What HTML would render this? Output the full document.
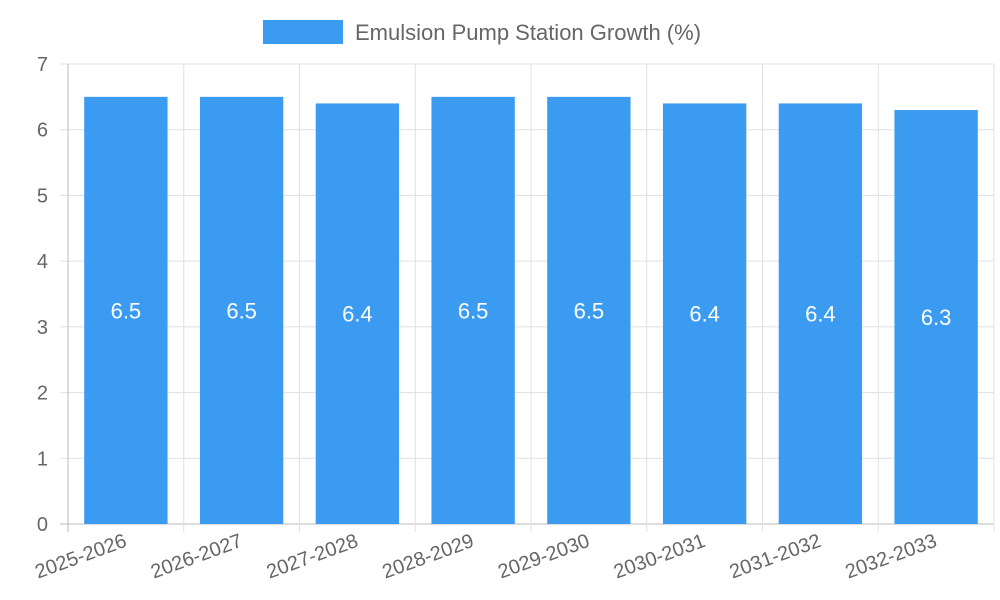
<!DOCTYPE html>
<html><head><meta charset="utf-8"><style>
body{margin:0;background:#fff;font-family:"Liberation Sans",sans-serif}
svg{display:block}
</style></head><body>
<svg id="chart" width="1000" height="600">
<rect x="263" y="20" width="80" height="24" fill="#3a9bf0"></rect>
<text x="355" y="40" font-size="22" fill="#666">Emulsion Pump Station Growth (%)</text>
<g id="grid"></g><g id="bars"></g><g id="labels"></g>
</svg>
<script>
const categories=["2025-2026","2026-2027","2027-2028","2028-2029","2029-2030","2030-2031","2031-2032","2032-2033"];
const values=[6.5,6.5,6.4,6.5,6.5,6.4,6.4,6.3];
const yTicks=[0,1,2,3,4,5,6,7];
const L=68,R=994,T=64,B=524,yMax=7;
const ns="http://www.w3.org/2000/svg";
const cw=(R-L)/categories.length;
const y=v=>B-(B-T)*v/yMax;
const x=i=>L+cw*i;
function mk(tag,attrs,parent,text){const e=document.createElementNS(ns,tag);for(const k in attrs)e.setAttribute(k,attrs[k]);if(text!=null)e.textContent=text;document.getElementById(parent).appendChild(e);return e;}
yTicks.forEach(t=>{
  const g=mk("line",{x1:L-8,x2:R,y1:y(t),y2:y(t),stroke:t===0?"#bbb":"#e0e0e0","stroke-width":1},"grid");
  
  
  const tl=mk("text",{x:L-20,y:y(t)+7,"text-anchor":"end","font-size":20,fill:"#666"},"labels",t);
  
  
});
for(let i=0;i<=categories.length;i++){
  const g=mk("line",{x1:x(i),x2:x(i),y1:T,y2:B+8,stroke:i===0?"#bbb":"#e0e0e0","stroke-width":1},"grid");
  
  
}
categories.forEach((c,i)=>{
  const bw=cw*0.72,bx=x(i)+(cw-bw)/2;
  const r=mk("rect",{x:bx,y:y(values[i]),width:bw,height:B-y(values[i]),fill:"#3a9bf0"},"bars");
  
  
  const v=mk("text",{x:x(i)+cw/2,y:(y(values[i])+B)/2+8,"text-anchor":"middle","font-size":22,fill:"#fff"},"labels",values[i]);
  
  
  const cx=x(i)+cw/2+2,cy=B+22;
  const t=mk("text",{x:cx,y:cy,"text-anchor":"end","font-size":20,fill:"#666",transform:`rotate(-20 ${cx} ${cy})`},"labels",c);
  
  
});
</script>
</body></html>
